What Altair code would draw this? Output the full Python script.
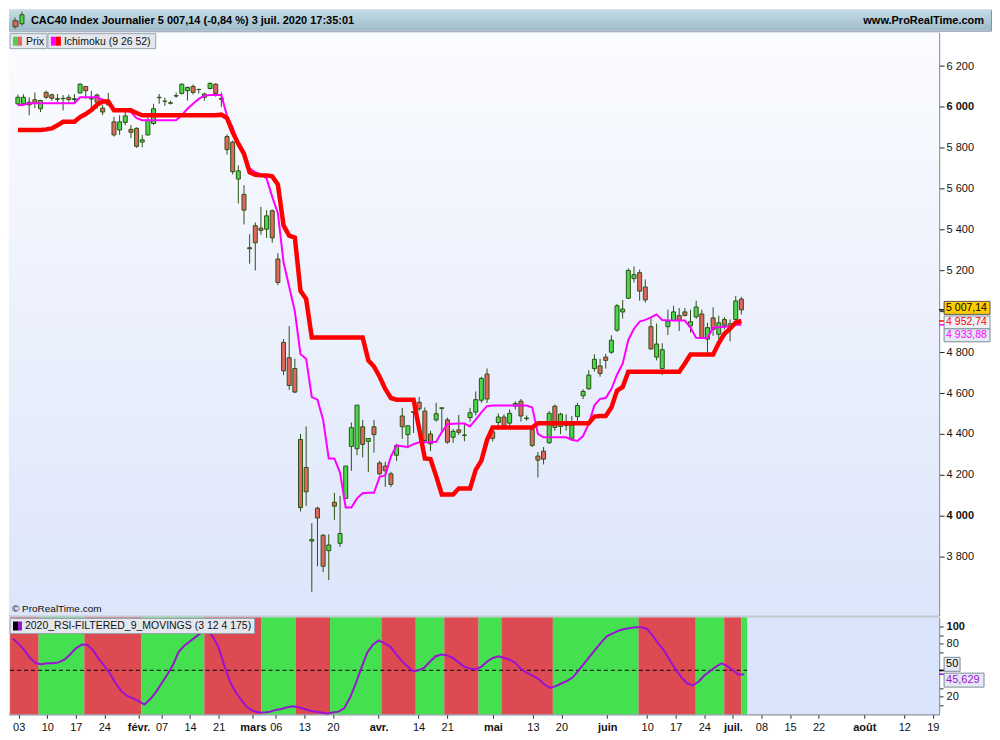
import json
import altair as alt
import pandas as pd

FONT = "Liberation Sans"

# ---------------- data ----------------
opens = [6015, 6015, 6023, 6035, 5991, 6071, 6059, 6040, 6040, 6047,
         6036, 6068, 6100, 6040, 6058, 5994, 6010, 5927, 5887, 5924,
         5890, 5895, 5828, 5863, 5919, 6045, 6028, 6020, 6053, 6066,
         6079, 6100, 6085, 6047, 6090, 6111, 6042, 5855, 5828, 5647,
         5572, 5311, 5419, 5407, 5402, 5492, 5256, 4848, 4773, 4720,
         4373, 4236, 3876, 4037, 3905, 3829, 4066, 3865, 4085, 4339,
         4328, 4435, 4364, 4435, 4258, 4243, 4205, 4296, 4488, 4397,
         4505, 4555, 4512, 4400, 4469, 4525, 4469, 4384, 4420, 4395,
         4480, 4507, 4565, 4693, 4411, 4456, 4483, 4453, 4536, 4560,
         4478, 4421, 4292, 4316, 4357, 4536, 4437, 4445, 4379, 4485,
         4587, 4621, 4720, 4733, 4776, 4800, 4908, 4997, 5064, 5160,
         5189, 5119, 4925, 4776, 4720, 4925, 4955, 4979, 4997, 4928,
         4973, 4987, 4864, 4968, 4888, 4960, 4928, 4960, 5060]
highs = [6060, 6062, 6047, 6071, 6035, 6080, 6065, 6063, 6058, 6060,
         6063, 6115, 6100, 6079, 6065, 6010, 6068, 5951, 5959, 5975,
         5911, 5900, 5863, 5950, 6015, 6063, 6045, 6030, 6070, 6115,
         6100, 6110, 6090, 6070, 6120, 6115, 6071, 5866, 5835, 5713,
         5617, 5377, 5435, 5511, 5495, 5498, 5284, 4864, 4928, 4768,
         4400, 4437, 3964, 4044, 3909, 3909, 4112, 4097, 4243, 4456,
         4541, 4469, 4378, 4469, 4268, 4264, 4215, 4352, 4528, 4440,
         4512, 4581, 4530, 4416, 4552, 4528, 4480, 4424, 4493, 4448,
         4528, 4608, 4680, 4720, 4416, 4500, 4496, 4520, 4560, 4571,
         4490, 4432, 4312, 4336, 4512, 4544, 4504, 4496, 4488, 4552,
         4619, 4712, 4790, 4768, 4792, 4883, 5035, 5056, 5210, 5219,
         5204, 5156, 4968, 4940, 4843, 5008, 5027, 5016, 5016, 5008,
         5052, 5008, 4944, 5019, 4979, 4972, 4960, 5075, 5071]
lows = [6008, 6006, 5959, 5994, 5975, 6039, 6030, 6023, 5983, 6025,
        6020, 6067, 6040, 5994, 5990, 5960, 6005, 5855, 5863, 5910,
        5847, 5800, 5802, 5860, 5911, 6015, 6005, 6012, 6045, 6060,
        6031, 6060, 6065, 6030, 6085, 6050, 5999, 5767, 5670, 5527,
        5425, 5233, 5200, 5375, 5359, 5335, 5128, 4688, 4616, 4600,
        4021, 4048, 3628, 3753, 3724, 3685, 3980, 3848, 4085, 4220,
        4296, 4285, 4213, 4309, 4197, 4141, 4140, 4268, 4376, 4330,
        4405, 4512, 4355, 4316, 4460, 4408, 4352, 4357, 4395, 4364,
        4460, 4491, 4552, 4552, 4364, 4440, 4432, 4432, 4520, 4460,
        4465, 4336, 4187, 4251, 4352, 4416, 4400, 4416, 4368, 4456,
        4571, 4616, 4705, 4680, 4720, 4792, 4900, 4965, 5060, 5141,
        5052, 5043, 4812, 4760, 4688, 4884, 4952, 4904, 4975, 4896,
        4963, 4869, 4792, 4880, 4864, 4912, 4853, 4960, 4984]
closes = [6047, 6047, 6010, 6018, 6031, 6047, 6042, 6037, 6042, 6036,
          6040, 6111, 6079, 6039, 6023, 5975, 6024, 5863, 5927, 5956,
          5876, 5807, 5839, 5935, 5991, 6047, 6028, 6018, 6055, 6111,
          6095, 6071, 6085, 6063, 6115, 6066, 6037, 5791, 5683, 5687,
          5495, 5306, 5335, 5396, 5467, 5359, 5141, 4709, 4637, 4605,
          4040, 4117, 3884, 3989, 3753, 3857, 4047, 3913, 4243, 4431,
          4541, 4349, 4378, 4397, 4205, 4220, 4153, 4344, 4435, 4440,
          4509, 4523, 4368, 4352, 4499, 4528, 4360, 4413, 4408, 4393,
          4504, 4568, 4672, 4571, 4379, 4483, 4440, 4501, 4549, 4488,
          4475, 4344, 4272, 4277, 4501, 4432, 4497, 4441, 4443, 4539,
          4608, 4688, 4765, 4696, 4760, 4859, 5027, 5011, 5200, 5179,
          5099, 5056, 4816, 4840, 4812, 4952, 4997, 4956, 4980, 4949,
          5021, 4872, 4920, 4912, 4944, 4932, 4939, 5051, 5007.14]
tenkan = [6008, 6010, 6018, 6018, 6018, 6018, 6018, 6018, 6018, 6018,
          6018, 6047, 6047, 6047, 6047, 6035, 6023, 5985, 5985, 5985,
          5975, 5945, 5935, 5935, 5935, 5935, 5935, 5935, 5935, 5959,
          5991, 6015, 6039, 6055, 6058, 6058, 6058, 5955, 5900, 5820,
          5780, 5700, 5680, 5670, 5650, 5560, 5480, 5240, 5120, 5000,
          4790, 4768, 4580, 4568, 4470, 4280, 4280, 4210, 4040, 4040,
          4085, 4110, 4112, 4112, 4190, 4197, 4290, 4344, 4340, 4336,
          4350, 4360, 4360, 4360, 4362, 4410, 4448, 4450, 4451, 4451,
          4437, 4470, 4506, 4536, 4539, 4539, 4539, 4539, 4539, 4539,
          4539, 4530, 4400, 4384, 4384, 4384, 4384, 4384, 4372, 4366,
          4390, 4450, 4540, 4572, 4576, 4620, 4690, 4744, 4860, 4915,
          4950, 4958, 4970, 4985, 4957, 4955, 4955, 4955, 4955, 4920,
          4870, 4869, 4869, 4920, 4922, 4924, 4926, 4934, 4933.88]
kijun = [5887, 5887, 5887, 5887, 5887, 5890, 5895, 5910, 5927, 5927,
         5927, 5950, 5965, 5985, 6010, 6026, 6026, 5983, 5983, 5983,
         5983, 5970, 5959, 5959, 5959, 5959, 5959, 5959, 5959, 5959,
         5959, 5959, 5959, 5959, 5959, 5959, 5962, 5945, 5875, 5820,
         5770, 5680, 5668, 5665, 5665, 5660, 5620, 5420, 5370, 5360,
         5100, 5060, 4872, 4872, 4872, 4872, 4872, 4872, 4872, 4872,
         4872, 4872, 4760, 4730, 4680, 4620, 4576, 4568, 4568, 4568,
         4568, 4425, 4280, 4277, 4194, 4104, 4104, 4104, 4133, 4133,
         4133, 4224, 4270, 4370, 4432, 4432, 4432, 4432, 4432, 4432,
         4432, 4432, 4453, 4453, 4453, 4453, 4453, 4453, 4453, 4453,
         4453, 4453, 4485, 4488, 4488, 4530, 4612, 4630, 4704, 4704,
         4704, 4704, 4704, 4704, 4704, 4704, 4704, 4704, 4745, 4789,
         4789, 4789, 4789, 4789, 4845, 4890, 4915, 4945, 4952.74]
rsi = [86, 80, 73, 64, 58, 57, 58, 58, 59, 62,
       68, 75, 79, 79, 73, 63, 55, 46, 35, 26,
       21, 18, 15, 11, 17, 25, 35, 45, 56, 71,
       78, 83, 88, 93, 96, 88, 76, 55, 37, 25,
       16, 8, 4, 2, 2, 3, 5, 6, 8, 9,
       8, 6, 4, 3, 2, 1, 2, 3, 7, 19,
       35, 53, 70, 79, 84, 81, 77, 69, 61, 55,
       49, 50, 53, 60, 66, 68, 67, 64, 59, 54,
       52, 51, 54, 60, 64, 66, 64, 62, 58, 51,
       47, 44, 40, 34, 30, 32, 35, 38, 42, 50,
       58, 66, 74, 82, 89, 92, 95, 97, 98, 99,
       99, 97, 89, 80, 72, 61, 51, 42, 35, 33,
       37, 44, 49, 54, 58, 55, 50, 45, 45.629]

RSI_RED, RSI_GREEN = "#dd4a52", "#44e050"
band_start = [0, 5, 13, 23, 34, 44, 50, 56, 65, 71, 76, 82, 86, 95, 110, 120, 125, 128]
band_end = [4, 12, 22, 33, 43, 49, 55, 64, 70, 75, 81, 85, 94, 109, 119, 124, 127, 128]
band_colors = [RSI_RED, RSI_GREEN] * 9

tick_pos = [1, 6, 11, 16, 22, 26, 31, 36, 42, 46, 51, 56, 64, 71, 76, 84, 91, 96,
            104, 111, 116, 121, 126, 131, 136, 141, 149, 156, 161]
tick_text = ["03", "10", "17", "24", "févr.", "07", "14", "21", "mars", "06", "13", "20",
             "avr.", "14", "21", "mai", "13", "20", "juin", "10", "17", "24", "juil.",
             "08", "15", "22", "août", "12", "19"]
month_pos = [22, 42, 64, 84, 104, 126, 149]

price_ticks = [3800, 4000, 4200, 4400, 4600, 4800, 5000, 5200, 5400, 5600, 5800, 6000, 6200]
hidden_price_label = 5000   # covered by the last-price tag in the reference
tag_values = [5007.14, 4952.74, 4933.88]
tag_text = ["5 007,14", "4 952,74", "4 933,88"]
rsi_level = 50
rsi_last = 45.629
rsi_last_text = "45,629"

title_text = "CAC40 Index Journalier 5 007,14 (-0,84 %) 3 juil. 2020 17:35:01"

# ---------------- geometry / style ----------------
W, AXW = 932, 52
TW = W + AXW
H_HEAD, H_TOP, H_RSI = 21, 584, 97

GREEN, RED, DK = "#4bd64b", "#e2665f", "#2b5216"
BORDER = "#8592a0"

n = len(closes)
df = pd.DataFrame({"i": list(range(n)), "o": opens, "h": highs, "l": lows, "c": closes,
                   "tenkan": tenkan, "kijun": kijun, "rsi": rsi})
df["dir"] = ["up" if c >= o else "down" for o, c in zip(opens, closes)]
one = pd.DataFrame({"k": [0]})

xs = alt.Scale(domain=[-0.69, 162.1], nice=False, zero=False)
ys = alt.Scale(domain=[3512, 6363], nice=False, zero=False)
rys = alt.Scale(domain=[0, 110], nice=False, zero=False)
XN = alt.X("i:Q", scale=xs, axis=None)


def cond_bold(test):
    return {"condition": {"test": test, "value": "bold"}, "value": "normal"}


yax = alt.Axis(orient="right", values=price_ticks, title=None, grid=False,
               labelExpr=f"datum.value == {hidden_price_label} ? '' : replace(format(datum.value, ','), ',', ' ')",
               labelFontWeight=cond_bold("datum.value == 4000 || datum.value == 6000"),
               labelFont=FONT, labelFontSize=11, labelColor="#111", tickColor="#222",
               tickSize=5, labelPadding=2, domainColor=BORDER, minExtent=AXW, maxExtent=AXW,
               labelFlush=False, labelOverlap=False)


def box(x0, x1, y0, y1, fill, stroke=None):
    kw = dict(fill=fill)
    if stroke:
        kw.update(stroke=stroke, strokeWidth=1)
    return alt.Chart(one).mark_rect(**kw).encode(
        x=alt.value(x0), x2=alt.value(x1), y=alt.value(y0), y2=alt.value(y1))


def label(x, y, text, size=10.5, weight="normal", color="#111", align="left"):
    return alt.Chart(one).mark_text(text=text, font=FONT, fontSize=size, fontWeight=weight,
                                    color=color, align=align, baseline="middle").encode(
        x=alt.value(x), y=alt.value(y))


# ---------------- header ----------------
head_grad = alt.Gradient(gradient="linear", x1=0, x2=0, y1=0, y2=1,
                         stops=[alt.GradientStop(color="#c6dce6", offset=0),
                                alt.GradientStop(color="#9dbbc9", offset=1)])
header = alt.layer(
    alt.Chart(one).mark_rect(fill=head_grad).encode(
        x=alt.value(0), x2=alt.value(TW), y=alt.value(0), y2=alt.value(H_HEAD)),
    alt.Chart(one).mark_rule(color=DK).encode(x=alt.value(6), y=alt.value(8), y2=alt.value(19)),
    box(4, 9, 11, 17, RED, DK),
    alt.Chart(one).mark_rule(color=DK).encode(x=alt.value(13), y=alt.value(2), y2=alt.value(16)),
    box(11, 15, 5, 14, GREEN, DK),
    label(22, 11, title_text, size=11, weight="bold", color="#000"),
    label(TW - 7, 11, "www.ProRealTime.com", size=11, weight="bold", color="#000", align="right"),
).properties(width=TW, height=H_HEAD)

# ---------------- price panel ----------------
top_grad = alt.Gradient(gradient="linear", x1=0, x2=0, y1=0, y2=1,
                        stops=[alt.GradientStop(color="#fbfcff", offset=0),
                               alt.GradientStop(color="#dce5fa", offset=1)])
bg = alt.Chart(one).mark_rect(fill=top_grad).encode(
    x=alt.value(0), x2=alt.value(W), y=alt.value(0), y2=alt.value(H_TOP))

base = alt.Chart(df)
wicks = base.mark_rule(color=DK, strokeWidth=1).encode(
    x=XN, y=alt.Y("l:Q", scale=ys, axis=yax), y2="h:Q")
bodies = base.mark_bar(size=4, stroke=DK, strokeWidth=1).encode(
    x=XN, y=alt.Y("o:Q", scale=ys, axis=yax), y2="c:Q",
    color=alt.Color("dir:N", scale=alt.Scale(domain=["up", "down"], range=[GREEN, RED]), legend=None))
ten_line = base.mark_line(color="#ff00ff", strokeWidth=2).encode(
    x=XN, y=alt.Y("tenkan:Q", scale=ys, axis=yax))
kij_line = base.mark_line(color="#ff0000", strokeWidth=4.5).encode(
    x=XN, y=alt.Y("kijun:Q", scale=ys, axis=yax))

legend_layers = [
    box(1, 38, 1, 16, "#e4e8ee", "#97a3af"),
    box(4, 9, 4, 13, "#4fcf4f"),
    box(9, 13, 4, 13, "#e2665f"),
    label(17, 9, "Prix"),
    box(39, 147, 1, 16, "#e4e8ee", "#97a3af"),
    box(42, 47, 4, 13, "#ff00ff"),
    box(47, 52, 4, 13, "#ff0000"),
    label(55, 9, "Ichimoku (9 26 52)"),
    label(3, H_TOP - 7, "© ProRealTime.com", size=10, color="#111"),
]


def price_tag(v, txt, fill, stroke, tcolor, off, half=6.5):
    d = pd.DataFrame({"v": [v], "t": [txt]})
    Y = alt.Y("v:Q", scale=ys, axis=yax)
    tick = alt.Chart(d).mark_rule(color=tcolor, strokeWidth=1.5).encode(
        x=alt.value(W), x2=alt.value(W + 5), y=Y)
    rect = alt.Chart(d).mark_rect(fill=fill, stroke=stroke, strokeWidth=1,
                                  yOffset=off - half, y2Offset=off + half).encode(
        x=alt.value(W + 5), x2=alt.value(W + 51), y=Y, y2="v:Q")
    text = alt.Chart(d).mark_text(align="left", baseline="middle", dy=off, font=FONT,
                                  fontSize=10.5, color=tcolor).encode(
        x=alt.value(W + 7), y=Y, text="t:N")
    return [tick, rect, text]


tags = []
tags += price_tag(tag_values[0], tag_text[0], "#ffcc00", "#555555", "#000000", -2)
tags += price_tag(tag_values[1], tag_text[1], "#eef1f6", "#8592a0", "#ff0000", 1.5)
tags += price_tag(tag_values[2], tag_text[2], "#e4eaf4", "#7d8a98", "#ff00ff", 10.5)

top = alt.layer(bg, wicks, bodies, ten_line, kij_line, *legend_layers, *tags).properties(
    width=W, height=H_TOP)

# ---------------- RSI panel ----------------
xax = alt.Axis(values=tick_pos, title=None, grid=False,
               labelExpr=f"{json.dumps(tick_text, ensure_ascii=False)}[indexof({json.dumps(tick_pos)}, datum.value)]",
               labelFontWeight=cond_bold(f"indexof({json.dumps(month_pos)}, datum.value) >= 0"),
               labelFont=FONT, labelFontSize=11, labelColor="#111", tickColor="#333",
               tickSize=4, labelPadding=3, domainColor=BORDER, labelOverlap=False, labelFlush=False)
XR = alt.X("i:Q", scale=xs, axis=xax)
rax = alt.Axis(orient="right", values=[10, 20, 30, 50, 70, 80, 90, 100], title=None, grid=False,
               labelExpr="datum.value == 100 || datum.value == 80 || datum.value == 20 ? datum.value : ''",
               labelFontWeight=cond_bold("datum.value == 100"),
               labelFont=FONT, labelFontSize=11, labelColor="#111", tickColor="#333",
               tickSize=4, labelPadding=3, domainColor=BORDER, minExtent=AXW, maxExtent=AXW,
               labelFlush=False, labelOverlap=False)

bands = pd.DataFrame({"s": band_start, "e": band_end, "col": band_colors})
rsi_bg = alt.Chart(one).mark_rect(fill="#dae4fa").encode(
    x=alt.value(0), x2=alt.value(W), y=alt.value(0), y2=alt.value(H_RSI))
band_layer = alt.Chart(bands).transform_calculate(
    a="datum.s - 0.5", b="datum.e + 0.5").mark_rect().encode(
    x=alt.X("a:Q", scale=xs, axis=xax), x2="b:Q",
    y=alt.value(0), y2=alt.value(H_RSI),
    color=alt.Color("col:N", scale=None, legend=None))
lvl = pd.DataFrame({"lvl": [rsi_level], "a": [band_start[0] - 0.5], "b": [band_end[-1] + 0.5]})
dash = alt.Chart(lvl).mark_rule(color="#000", strokeWidth=1, strokeDash=[4, 3]).encode(
    x=alt.X("a:Q", scale=xs, axis=xax), x2="b:Q", y=alt.Y("lvl:Q", scale=rys, axis=rax))
rsi_line = alt.Chart(df).mark_line(color="#9a12d4", strokeWidth=2).encode(
    x=XR, y=alt.Y("rsi:Q", scale=rys, axis=rax))


def rsi_tag(v, txt, tcolor, off, w):
    d = pd.DataFrame({"v": [v], "t": [txt]})
    Y = alt.Y("v:Q", scale=rys, axis=rax)
    tick = alt.Chart(d).mark_rule(color=tcolor, strokeWidth=1.5).encode(
        x=alt.value(W), x2=alt.value(W + 5), y=Y)
    rect = alt.Chart(d).mark_rect(fill="#e4eaf4", stroke="#7d8a98", strokeWidth=1,
                                  yOffset=off - 7, y2Offset=off + 7).encode(
        x=alt.value(W + 5), x2=alt.value(W + 5 + w), y=Y, y2="v:Q")
    text = alt.Chart(d).mark_text(align="left", baseline="middle", dy=off, font=FONT,
                                  fontSize=11, color=tcolor).encode(
        x=alt.value(W + 7), y=Y, text="t:N")
    return [tick, rect, text]


rsi_tags = rsi_tag(rsi_level, str(rsi_level), "#000000", -6, 16) + \
    rsi_tag(rsi_last, rsi_last_text, "#9a12d4", 6, 40)

rsi_label = [
    box(1, 246, 1, 16, "#e4e8ee", "#97a3af"),
    box(4, 9, 4, 13, "#000000"),
    box(9, 13, 4, 13, "#9a12d4"),
    label(16, 9, "2020_RSI-FILTERED_9_MOVINGS (3 12 4 175)"),
]

rsi_chart = alt.layer(rsi_bg, band_layer, dash, rsi_line, *rsi_label, *rsi_tags).properties(
    width=W, height=H_RSI)

chart = alt.vconcat(header, top, rsi_chart, spacing=0).resolve_scale(
    x="independent", y="independent"
).properties(padding=0, background="white").configure_view(stroke=BORDER, strokeWidth=1)

chart.save("out.html", embed_options={"renderer": "svg", "actions": False})
